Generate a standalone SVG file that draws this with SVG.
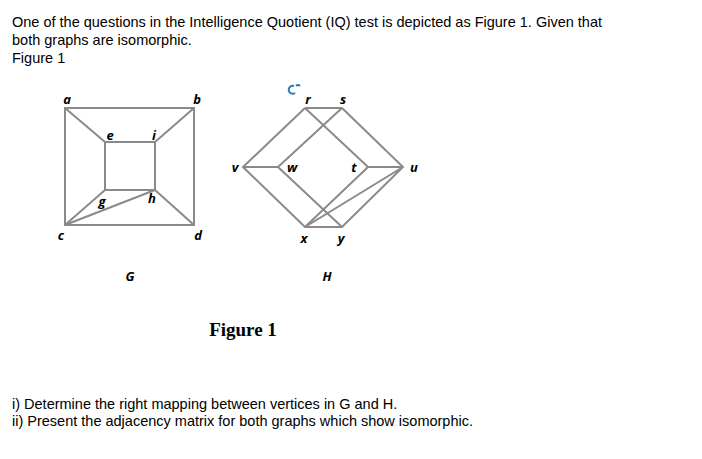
<svg xmlns="http://www.w3.org/2000/svg" width="702" height="459" viewBox="0 0 702 459">
<style>
.t{font-family:"Liberation Sans",Arial,sans-serif;font-size:14.5px;fill:#000}
.l{font-family:"Open Sans","Liberation Sans",sans-serif;font-size:13px;font-style:italic;font-weight:bold;fill:#000;text-anchor:middle}
.e{stroke:#8a8a8a;stroke-width:2;fill:none}
</style>
<rect width="702" height="459" fill="#fff"/>
<text class="t" x="12" y="27">One of the questions in the Intelligence Quotient (IQ) test is depicted as Figure 1. Given that</text>
<text class="t" x="12" y="45">both graphs are isomorphic.</text>
<text class="t" x="12" y="63">Figure 1</text>
<g id="connectors">
<path class="e" d="M65 108H194V225H65Z M105 142H155V190H105Z M65 108L105 142 M194 108L155 142 M65 225L105 190 M65 225L155 190 M194 225L155 190"/>
<path class="e" d="M305 108H342 M305 108L243 167L305 227H342L403 167L342 108 M243 167H278 M278 167L342 108 M278 167L342 227 M305 108L368 167H403 M368 167L305 227 M305 227L403 167"/>
</g>
<g id="a"><text class="l" x="67" y="104">a</text></g>
<g id="b"><text class="l" x="197" y="104">b</text></g>
<g id="c"><text class="l" x="61" y="240">c</text></g>
<g id="d"><text class="l" x="198" y="240">d</text></g>
<g id="e"><text class="l" x="110" y="140">e</text></g>
<g id="i"><text class="l" x="154" y="140">i</text></g>
<g id="g"><text class="l" x="102" y="206">g</text></g>
<g id="h"><text class="l" x="152" y="203">h</text></g>
<g id="r"><text class="l" x="308" y="104">r</text></g>
<g id="s"><text class="l" x="343" y="104">s</text></g>
<g id="v"><text class="l" x="235" y="172">v</text></g>
<g id="w"><text class="l" x="292" y="172">w</text></g>
<g id="t"><text class="l" x="354" y="172">t</text></g>
<g id="u"><text class="l" x="414" y="172">u</text></g>
<g id="x"><text class="l" x="304" y="243">x</text></g>
<g id="y"><text class="l" x="341" y="243">y</text></g>
<path d="M294 86a4 4 0 1 0 1 7 M296 86q2 -2 4 0" stroke="#2a7ab8" stroke-width="2" fill="none"/>
<text class="l" x="130" y="281">G</text>
<text class="l" x="327" y="281">H</text>
<text x="243" y="336" font-family="Liberation Serif,serif" font-size="19" font-weight="bold" text-anchor="middle">Figure 1</text>
<text class="t" x="12" y="409">i) Determine the right mapping between vertices in G and H.</text>
<text class="t" x="12" y="426">ii) Present the adjacency matrix for both graphs which show isomorphic.</text>
</svg>
